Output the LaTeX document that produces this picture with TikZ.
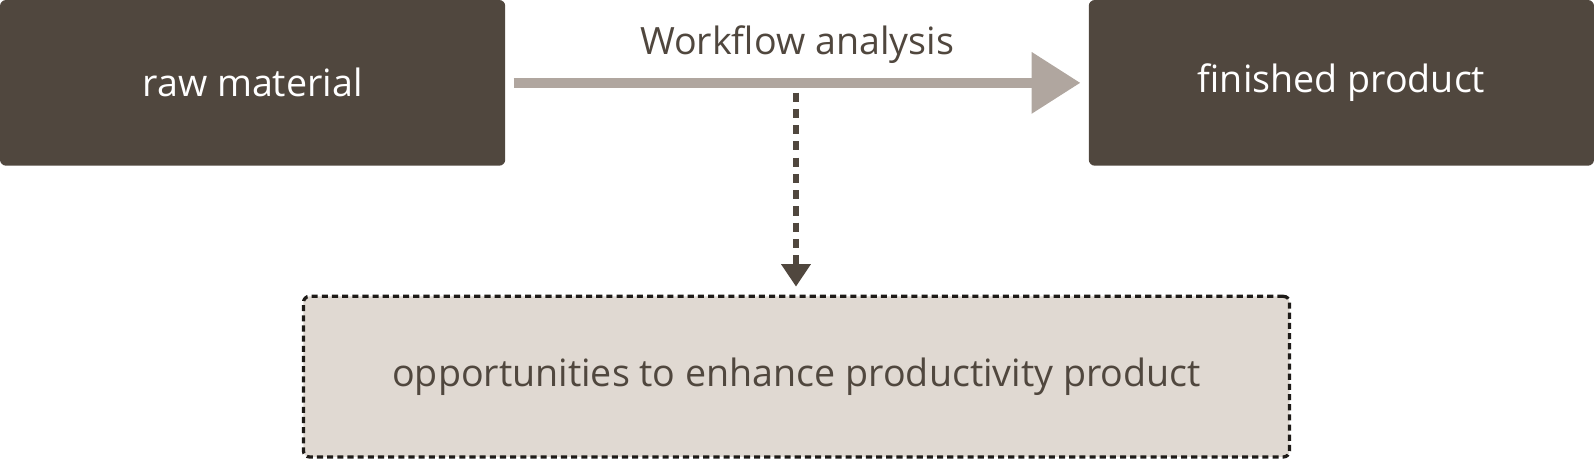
\documentclass[tikz,border=0pt]{standalone}
\usepackage{fontspec}
\setmainfont{Open Sans}
\usetikzlibrary{arrows.meta}
\definecolor{darkbox}{HTML}{50473E}
\definecolor{lightarrow}{HTML}{B0A69F}
\definecolor{lightfill}{HTML}{E0D9D2}
\definecolor{borderc}{HTML}{1E1B18}
\tikzset{
  darkbox/.style={fill=darkbox, rounded corners=6pt, minimum width=497pt, minimum height=163pt,
    inner sep=0pt, text=white, font=\fontsize{37}{42}\selectfont},
  oppbox/.style={fill=lightfill, draw=borderc, line width=3.2pt, dash pattern=on 6pt off 4pt,
    rounded corners=6pt, minimum width=970pt, minimum height=158pt, inner sep=0pt,
    text=darkbox, font=\fontsize{37}{42}\selectfont},
  mainarrow/.style={draw=lightarrow, line width=10pt, -{Triangle[length=48pt,width=58pt]}},
  dasharrow/.style={draw=darkbox, line width=5pt, dash pattern=on 9pt off 7pt,
    -{Triangle[length=22pt,width=28pt]}},
  lbl/.style={text=darkbox, font=\fontsize{37}{42}\selectfont}
}
\begin{document}
\begin{tikzpicture}[x=1pt,y=-1pt]
\useasboundingbox (0,0) rectangle (1568,451.5);
\node[darkbox] (raw) at (248.5,81.5) {raw material};
\node[darkbox] (fin) at (1319.5,81.5) {finished product};
\node[oppbox] (opp) at (783.5,370.5) {opportunities to enhance productivity product};
\path[mainarrow] ([xshift=8pt]raw.east) -- node[lbl, pos=0.5, yshift=38pt] (wf) {Workflow analysis} ([xshift=-8pt]fin.west);
\coordinate (tap) at (783,91);
\draw[dasharrow] (tap) -- ([yshift=8pt]opp.north -| tap);
\end{tikzpicture}
\end{document}
